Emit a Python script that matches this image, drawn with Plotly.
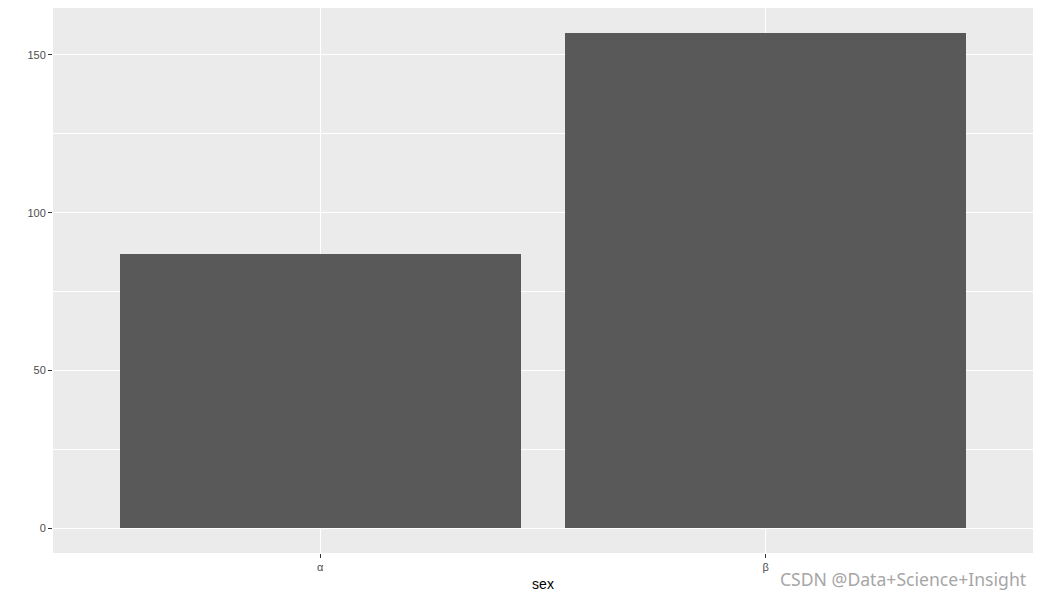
import plotly.graph_objects as go

# counts per sex
categories = ["α", "β"]
counts = [87, 157]

ymax = max(counts)
pad = ymax * 0.05

fig = go.Figure()
fig.add_trace(go.Bar(x=[0, 1], y=counts, width=0.9,
                     marker=dict(color="#595959", line=dict(width=0)),
                     showlegend=False))

# page body adds 8px margin, so the figure is a bit smaller than the window
fig.update_layout(
    width=1025, height=584,
    margin=dict(l=45, r=0, t=0, b=39),
    plot_bgcolor="#EBEBEB", paper_bgcolor="white",
    font=dict(family="Liberation Sans, Arial", size=11, color="#4D4D4D"),
    bargap=0,
)
fig.update_xaxes(
    range=[-0.6, 1.6], tickmode="array", tickvals=[0, 1], ticktext=categories,
    showgrid=True, gridcolor="white", gridwidth=1.1, zeroline=False,
    ticks="outside", ticklen=4, tickcolor="#333333", tickwidth=1,
    title=dict(text="sex", font=dict(size=14, color="black"), standoff=6),
    tickfont=dict(size=11, color="#4D4D4D"),
)
fig.update_yaxes(
    range=[-pad, ymax + pad], tickmode="array", tickvals=[0, 50, 100, 150],
    showgrid=True, gridcolor="white", gridwidth=1.1, zeroline=False,
    minor=dict(tickvals=[25, 75, 125], showgrid=True, gridcolor="white", gridwidth=0.5),
    ticks="outside", ticklen=4, tickcolor="#333333", tickwidth=1,
    tickfont=dict(size=11, color="#4D4D4D"),
)

fig.add_annotation(text="CSDN @Data+Science+Insight", xref="paper", yref="paper",
                   x=1.0, y=0, xanchor="right", yanchor="middle", showarrow=False,
                   xshift=-5, yshift=-26,
                   font=dict(family="Noto Sans", size=17.6, color="#A6A6A6"))

fig.write_html("out.html")
